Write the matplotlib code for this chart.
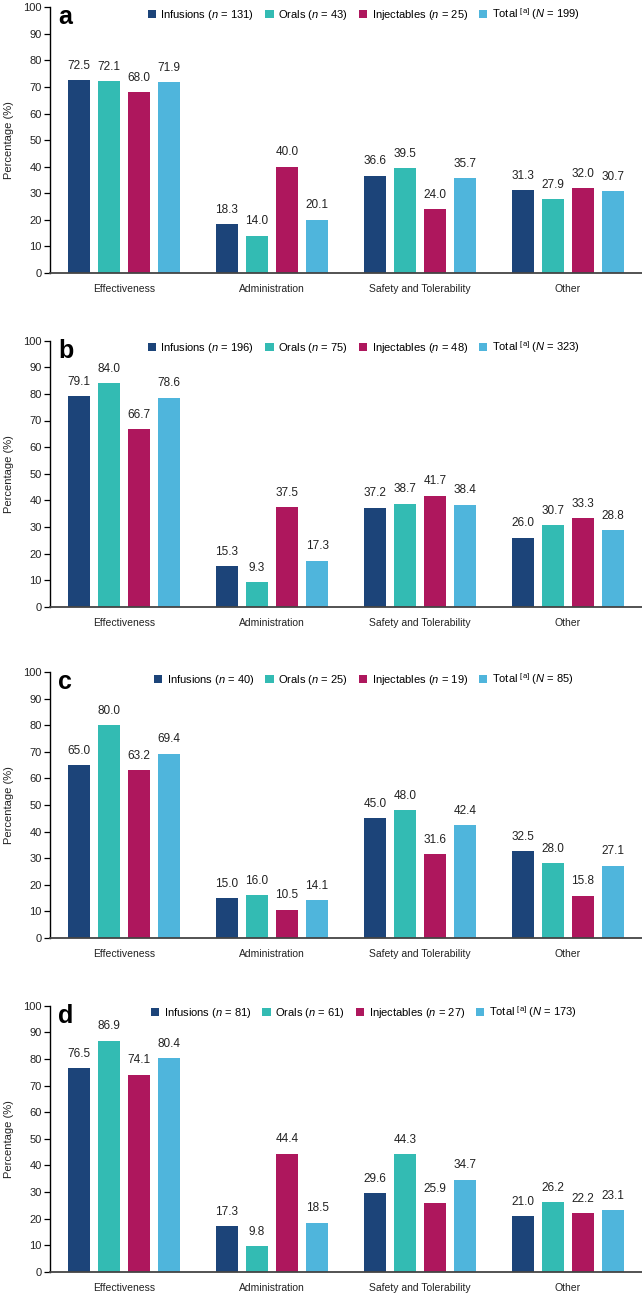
import matplotlib
matplotlib.use('Agg')
import matplotlib.pyplot as plt
import numpy as np

plt.rcParams['font.family'] = ['Liberation Sans', 'DejaVu Sans']
plt.rcParams['mathtext.fontset'] = 'custom'
plt.rcParams['mathtext.rm'] = 'Liberation Sans'
plt.rcParams['mathtext.it'] = 'Liberation Sans:italic'

categories = ['Effectiveness', 'Administration', 'Safety and Tolerability', 'Other']
groups = ['Infusions', 'Orals', 'Injectables', 'Total']
colors = ['#1C4479', '#33BBB3', '#AE175D', '#4FB5DC']

panel_labels = ['a', 'b', 'c', 'd']

# n per group, per panel
n_a = [131, 43, 25, 199]
n_b = [196, 75, 48, 323]
n_c = [40, 25, 19, 85]
n_d = [81, 61, 27, 173]

# percentages: rows = Infusions, Orals, Injectables, Total
vals_a = [[72.5, 18.3, 36.6, 31.3],
          [72.1, 14.0, 39.5, 27.9],
          [68.0, 40.0, 24.0, 32.0],
          [71.9, 20.1, 35.7, 30.7]]
vals_b = [[79.1, 15.3, 37.2, 26.0],
          [84.0, 9.3, 38.7, 30.7],
          [66.7, 37.5, 41.7, 33.3],
          [78.6, 17.3, 38.4, 28.8]]
vals_c = [[65.0, 15.0, 45.0, 32.5],
          [80.0, 16.0, 48.0, 28.0],
          [63.2, 10.5, 31.6, 15.8],
          [69.4, 14.1, 42.4, 27.1]]
vals_d = [[76.5, 17.3, 29.6, 21.0],
          [86.9, 9.8, 44.3, 26.2],
          [74.1, 44.4, 25.9, 22.2],
          [80.4, 18.5, 34.7, 23.1]]

panels = [(vals_a, n_a), (vals_b, n_b), (vals_c, n_c), (vals_d, n_d)]

W, H = 642, 1298
fig = plt.figure(figsize=(W / 100, H / 100), dpi=100)

# axes top / bottom in pixels
tops = [7.3, 340.7, 672.3, 1005.7]
bottoms = [273, 606.7, 937.7, 1272]
left_px = 50

x = np.arange(len(categories))
width = 0.152
step = 0.203

for i, (vals, ns) in enumerate(panels):
    ax = fig.add_axes([left_px / W, 1 - bottoms[i] / H, (W - left_px) / W, (bottoms[i] - tops[i]) / H])
    for j, g in enumerate(groups):
        if g == 'Total':
            lab = r'Total $^{\rm [a]}$ ($N$ = %d)' % ns[j]
        else:
            lab = r'%s ($n$ = %d)' % (g, ns[j])
        bars = ax.bar(x + (j - 1.5) * step, vals[j], width, color=colors[j], label=lab)
        ax.bar_label(bars, fmt='%.1f', padding=6, fontsize=8.5, color='#222222')
    ax.set_xlim(-0.5, 3.5)
    ax.set_ylim(0, 100)
    ax.set_yticks(range(0, 101, 10))
    ax.set_xticks(x)
    ax.set_xticklabels(categories, fontsize=7.5, color='#222222')
    ax.tick_params(axis='x', length=0, pad=8)
    ax.tick_params(axis='y', length=4, width=0.9, labelsize=8, labelcolor='#222222', pad=2)
    ax.spines['top'].set_visible(False)
    ax.spines['right'].set_visible(False)
    ax.spines['left'].set_linewidth(1.0)
    ax.spines['bottom'].set_linewidth(1.3)
    ax.spines['bottom'].set_color('#444444')
    ax.set_ylabel('Percentage (%)', fontsize=8, color='#222222')
    ax.yaxis.set_label_coords(-36 / (W - left_px), 0.5)
    ax.text(0.014, 0.936, panel_labels[i], transform=ax.transAxes, fontsize=18,
            fontweight='bold', va='baseline', ha='left')
    ax.legend(loc='center', bbox_to_anchor=(0.53, 0.975), ncol=4, frameon=False,
              fontsize=8, handlelength=0.75, handleheight=0.75, handletextpad=0.4,
              columnspacing=1.0, borderpad=0, borderaxespad=0)

fig.savefig('out.png', dpi=100)
